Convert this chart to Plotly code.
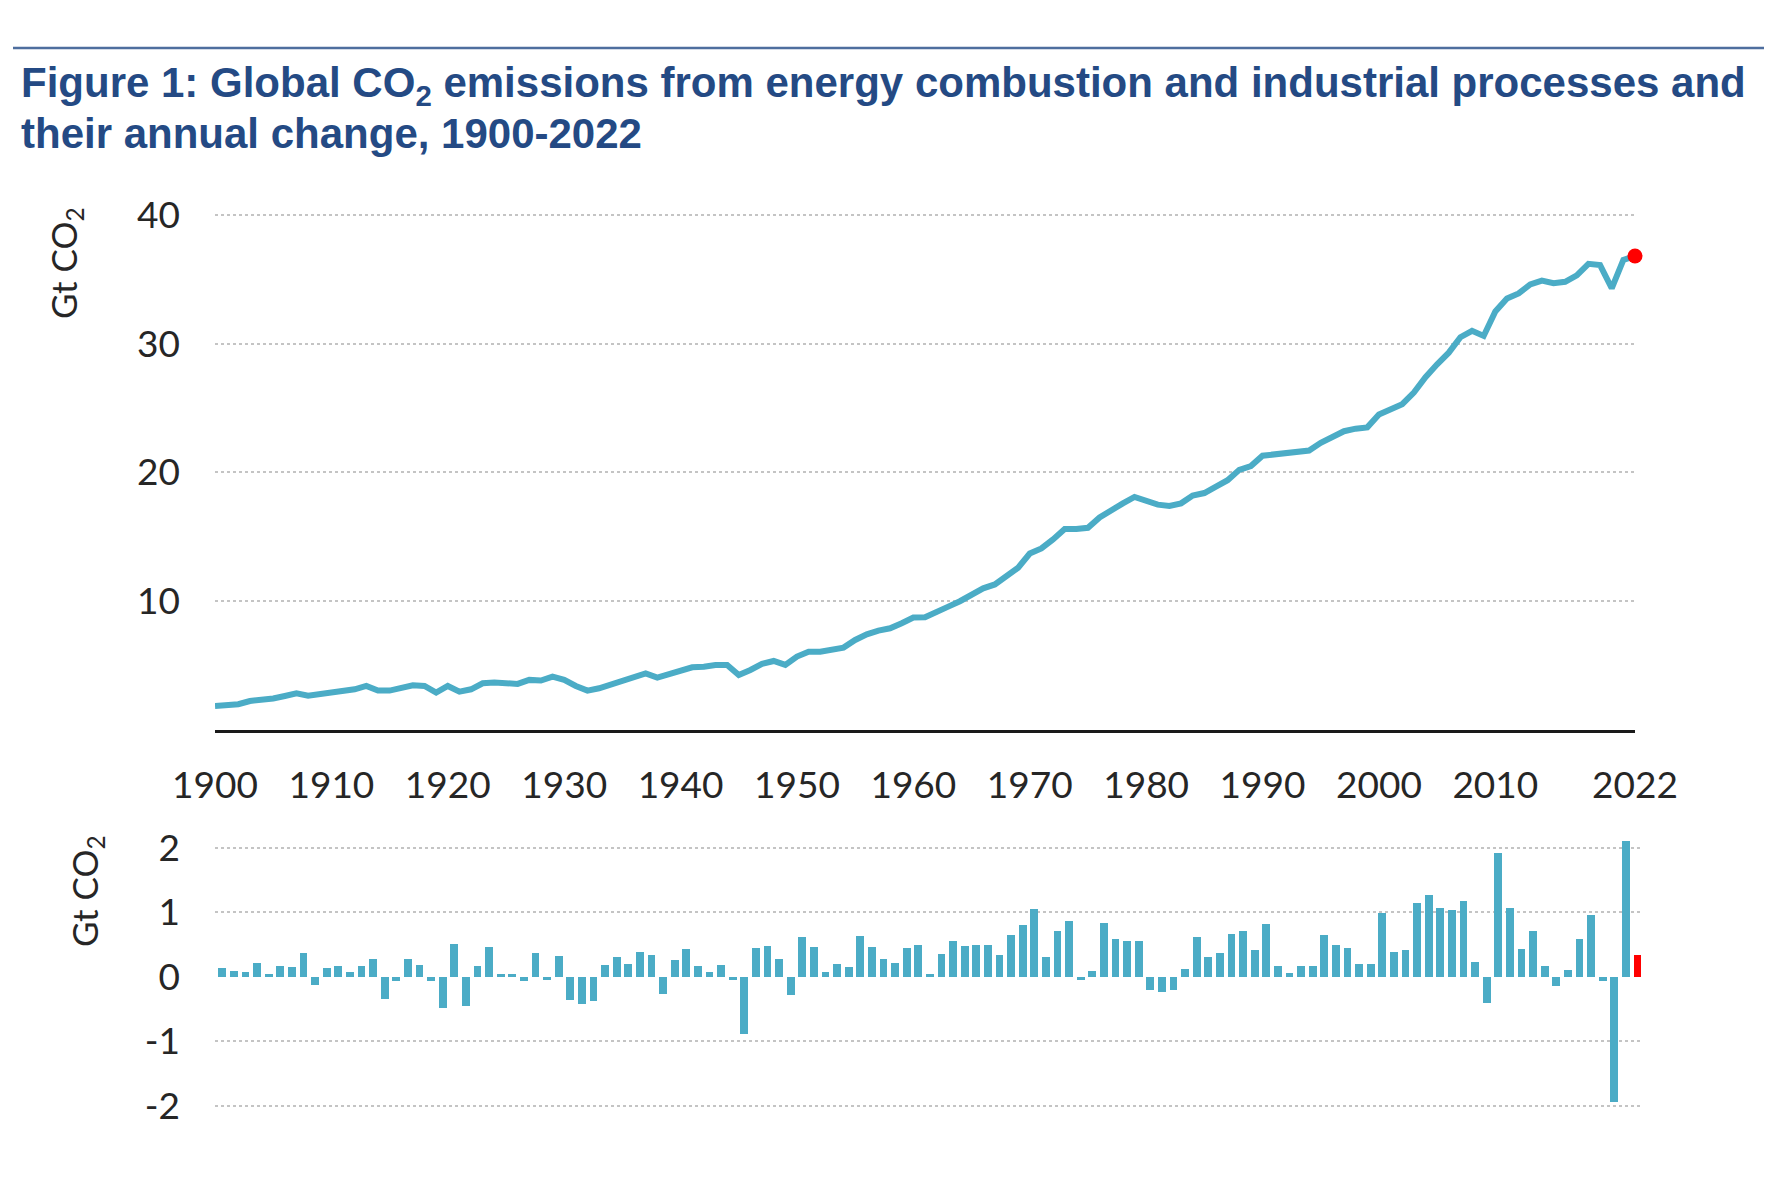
import plotly.graph_objects as go

# Global CO2 emissions (Gt CO2), 1900-2022
years = list(range(1900, 2023))

emissions = [
    1.86, 1.90, 2.00, 2.25, 2.30, 2.45, 2.64, 2.85, 2.67, 2.80,
    2.93, 3.00, 3.16, 3.42, 3.06, 3.06, 3.32, 3.47, 3.42, 2.90,
    3.42, 2.98, 3.16, 3.63, 3.68, 3.68, 3.58, 3.89, 3.84, 4.15,
    3.89, 3.42, 3.06, 3.24, 3.53, 3.76, 4.15, 4.40, 4.07, 4.35,
    4.71, 4.87, 4.92, 5.05, 5.05, 4.27, 4.66, 5.13, 5.36, 5.05,
    5.70, 6.08, 6.08, 6.27, 6.40, 6.99, 7.43, 7.72, 7.90, 8.29,
    8.73, 8.75, 9.12, 9.58, 10.0, 10.5, 11.0, 11.3, 11.9, 12.6,
    13.7, 14.1, 14.8, 15.6, 15.6, 15.7, 16.5, 17.1, 17.6, 18.1,
    17.8, 17.5, 17.4, 17.6, 18.2, 18.4, 18.9, 19.4, 20.2, 20.5,
    21.3, 21.4, 21.4, 21.5, 21.7, 22.3, 22.7, 23.2, 23.4, 23.5,
    24.5, 24.9, 25.3, 26.2, 27.4, 28.4, 29.3, 30.5, 31.0, 30.6,
    32.5, 33.5, 33.9, 34.6, 34.9, 34.7, 34.8, 35.3, 36.2, 36.1,
    34.3, 36.5, 36.8,
]

# annual change (Gt CO2)
annual_change = [
    0.13, 0.09, 0.08, 0.21, 0.05, 0.17, 0.15, 0.37, -0.13, 0.14,
    0.16, 0.08, 0.17, 0.28, -0.35, -0.06, 0.27, 0.18, -0.06, -0.48,
    0.51, -0.45, 0.17, 0.46, 0.04, 0.04, -0.07, 0.37, -0.05, 0.32,
    -0.36, -0.43, -0.37, 0.18, 0.30, 0.19, 0.39, 0.33, -0.27, 0.26,
    0.43, 0.16, 0.08, 0.18, -0.05, -0.88, 0.44, 0.48, 0.27, -0.28,
    0.61, 0.46, 0.08, 0.19, 0.15, 0.63, 0.46, 0.27, 0.22, 0.44,
    0.49, 0.05, 0.36, 0.56, 0.47, 0.49, 0.49, 0.33, 0.65, 0.80,
    1.05, 0.30, 0.71, 0.86, -0.05, 0.09, 0.84, 0.58, 0.55, 0.55,
    -0.21, -0.24, -0.21, 0.12, 0.61, 0.30, 0.37, 0.66, 0.71, 0.41,
    0.81, 0.16, 0.06, 0.16, 0.16, 0.65, 0.49, 0.45, 0.20, 0.20,
    0.98, 0.38, 0.41, 1.15, 1.26, 1.06, 1.03, 1.18, 0.23, -0.41,
    1.92, 1.06, 0.43, 0.71, 0.16, -0.15, 0.11, 0.59, 0.95, -0.06,
    -1.94, 2.10, 0.34,
]

x_tickvals = [1900, 1910, 1920, 1930, 1940, 1950, 1960, 1970, 1980, 1990, 2000, 2010, 2022]
top_tickvals = [10, 20, 30, 40]
bottom_tickvals = [-2, -1, 0, 1, 2]
bottom_ticktext = ["-2", "-1", "0", "1", "2"]

TEAL = "#4BACC6"
RED = "#FF0000"
TICK_FONT = dict(family="Lato, Noto Sans, sans-serif", size=37, color="#262626")

# the page body adds an 8px margin, so the figure is shifted by that much
OFF = 8
W, H = 1772 - OFF, 1181 - OFF
PL, PR, PT, PB = 215, 1641, 211, 1109   # plot area in window pixels
L, R, T, B = PL - OFF, 1772 - PR, PT - OFF, 1181 - PB


def px_x(px):
    return (px - PL) / (PR - PL)


def px_y(py):
    return (PB - py) / (PB - PT)


bar_colors = [TEAL] * (len(years) - 1) + [RED]

fig = go.Figure()

fig.add_trace(go.Scatter(
    x=years, y=emissions, mode="lines",
    line=dict(color=TEAL, width=6),
    xaxis="x", yaxis="y", showlegend=False, hoverinfo="skip",
))
fig.add_trace(go.Scatter(
    x=years[-1:], y=emissions[-1:], mode="markers",
    marker=dict(color=RED, size=15), cliponaxis=False,
    xaxis="x", yaxis="y", showlegend=False,
))
fig.add_trace(go.Bar(
    x=years, y=annual_change, width=0.66,
    marker=dict(color=bar_colors, line=dict(width=0)),
    xaxis="x2", yaxis="y2", showlegend=False,
))

grid = dict(showgrid=True, gridcolor="#C4C4C4", gridwidth=2, griddash="dot")
title_font = dict(family="Liberation Sans, Arial, sans-serif", size=42, color="#244A84")
label_font = dict(family="Lato, Noto Sans, sans-serif", size=35, color="#262626")

fig.update_layout(
    width=W, height=H,
    margin=dict(l=L, r=R, t=T, b=B),
    paper_bgcolor="white", plot_bgcolor="white",
    bargap=0,
    xaxis=dict(
        domain=[0, px_x(1635)], range=[1900, 2022], anchor="y",
        tickmode="array", tickvals=x_tickvals, ticks="", tickfont=TICK_FONT,
        ticklabelstandoff=21,
        showgrid=False, zeroline=False,
        showline=True, linecolor="#1a1a1a", linewidth=3,
    ),
    yaxis=dict(
        domain=[px_y(730), 1], range=[0, 40.3], anchor="x",
        tickmode="array", tickvals=top_tickvals, ticks="", tickfont=TICK_FONT,
        ticklabelstandoff=34, zeroline=False, showline=False, **grid,
    ),
    xaxis2=dict(
        domain=[0, 1], range=[1899.37, 2022.3], anchor="y2",
        showticklabels=False, showgrid=False, zeroline=False, showline=False,
    ),
    yaxis2=dict(
        domain=[0, px_y(838)], range=[-2.05, 2.15], anchor="x2",
        tickmode="array", tickvals=bottom_tickvals, ticktext=bottom_ticktext,
        ticks="", tickfont=TICK_FONT,
        ticklabelstandoff=34, zeroline=False, showline=False, showgrid=False,
        minor=dict(tickmode="array", tickvals=[-2, -1, 1, 2], ticks="",
                   showgrid=True, gridcolor="#C4C4C4", gridwidth=2, griddash="dot"),
    ),
    shapes=[dict(
        type="line", xref="paper", yref="paper",
        x0=px_x(13), x1=px_x(1772), y0=px_y(48), y1=px_y(48),
        line=dict(color="#4E6E9E", width=2.5),
    )],
    annotations=[
        dict(text="<b>Figure 1: Global CO<sub>2</sub> emissions from energy combustion and industrial processes and</b>",
             showarrow=False, xref="paper", yref="paper",
             x=px_x(19), y=px_y(85), xanchor="left", yanchor="middle", font=title_font),
        dict(text="<b>their annual change, 1900-2022</b>",
             showarrow=False, xref="paper", yref="paper",
             x=px_x(19), y=px_y(134), xanchor="left", yanchor="middle", font=title_font),
        dict(text="Gt CO<sub>2</sub>", textangle=-90, showarrow=False,
             xref="paper", yref="paper", x=px_x(66), y=px_y(263),
             xanchor="center", yanchor="middle", font=label_font),
        dict(text="Gt CO<sub>2</sub>", textangle=-90, showarrow=False,
             xref="paper", yref="paper", x=px_x(86), y=px_y(891),
             xanchor="center", yanchor="middle", font=label_font),
    ],
)

fig.write_html("out.html")
